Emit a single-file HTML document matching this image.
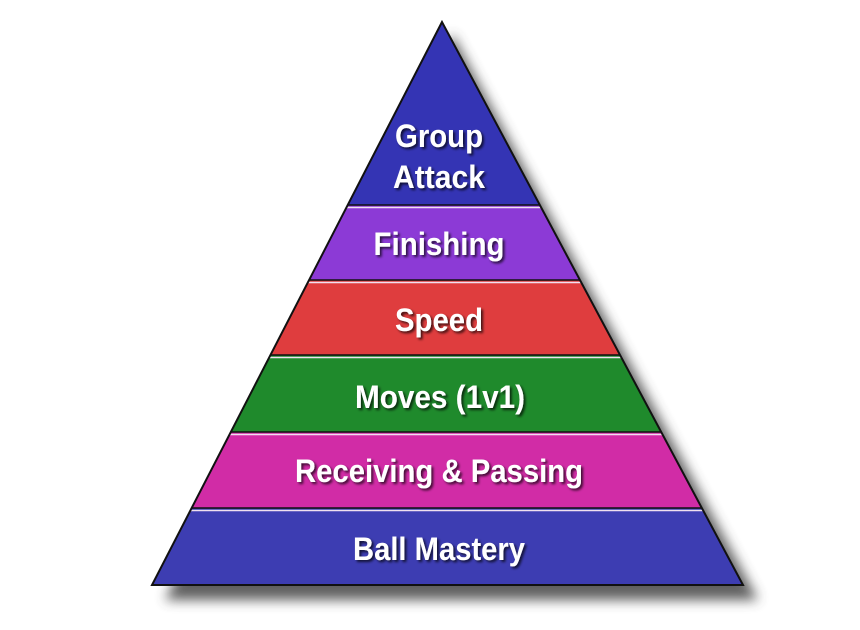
<!DOCTYPE html>
<html><head><meta charset="utf-8"><style>
html,body{margin:0;padding:0;background:#fff;}
svg{display:block}
text{font-family:"Liberation Sans",Arial,sans-serif;font-weight:bold;font-size:32px;fill:#fff;}
</style></head><body>
<svg width="860" height="630" viewBox="0 0 860 630">
<defs>
<filter id="sh" x="-10%" y="-10%" width="130%" height="130%"><feGaussianBlur stdDeviation="6"/></filter>
<filter id="ts" x="-10%" y="-30%" width="130%" height="160%"><feDropShadow dx="2" dy="2" stdDeviation="1.2" flood-color="#000" flood-opacity="0.7"/></filter>
</defs>
<polygon points="452,34 165,600 758,600" fill="#444" opacity="0.85" filter="url(#sh)"/>
<polygon points="442,22 347.7,205 539.9,205" fill="#3434b4"/>
<polygon points="347.7,205 539.9,205 580,280 309.1,280" fill="#8c3ad6"/>
<polygon points="309.1,280 580,280 620.2,355 270.5,355" fill="#df3d3e"/>
<polygon points="270.5,355 620.2,355 661.4,432 230.8,432" fill="#1f8a2c"/>
<polygon points="230.8,432 661.4,432 702,508 191.7,508" fill="#d12ca6"/>
<polygon points="191.7,508 702,508 743,585 152,585" fill="#3d3db2"/>
<g stroke="#111" stroke-width="1.5">
<line x1="347.7" y1="205" x2="539.9" y2="205"/>
<line x1="309.1" y1="280" x2="580" y2="280"/>
<line x1="270.5" y1="355" x2="620.2" y2="355"/>
<line x1="230.8" y1="432" x2="661.4" y2="432"/>
<line x1="191.7" y1="508" x2="702" y2="508"/>
</g>
<g stroke="#f0e0f0" stroke-width="1.5">
<line x1="347" y1="207.5" x2="541" y2="207.5"/>
<line x1="308" y1="282.5" x2="581" y2="282.5"/>
<line x1="269" y1="357.5" x2="621" y2="357.5"/>
<line x1="230" y1="434.5" x2="662" y2="434.5"/>
<line x1="191" y1="510.5" x2="703" y2="510.5"/>
</g>
<polygon points="442,22 152,585 743,585" fill="none" stroke="#111" stroke-width="2"/>
<g filter="url(#ts)" text-anchor="middle">
<text x="439" y="147" textLength="88" lengthAdjust="spacingAndGlyphs">Group</text>
<text x="439" y="188" textLength="92" lengthAdjust="spacingAndGlyphs">Attack</text>
<text x="439" y="255" textLength="131" lengthAdjust="spacingAndGlyphs" fill="#f4d8f4">Finishing</text>
<text x="439" y="331" textLength="88" lengthAdjust="spacingAndGlyphs" fill="#fde">Speed</text>
<text x="440" y="408" textLength="170" lengthAdjust="spacingAndGlyphs" fill="#e8f8e8">Moves (1v1)</text>
<text x="439" y="482" textLength="288" lengthAdjust="spacingAndGlyphs" fill="#f8e0f0">Receiving &amp; Passing</text>
<text x="439" y="560" textLength="172" lengthAdjust="spacingAndGlyphs">Ball Mastery</text>
</g>
</svg>
</body></html>
